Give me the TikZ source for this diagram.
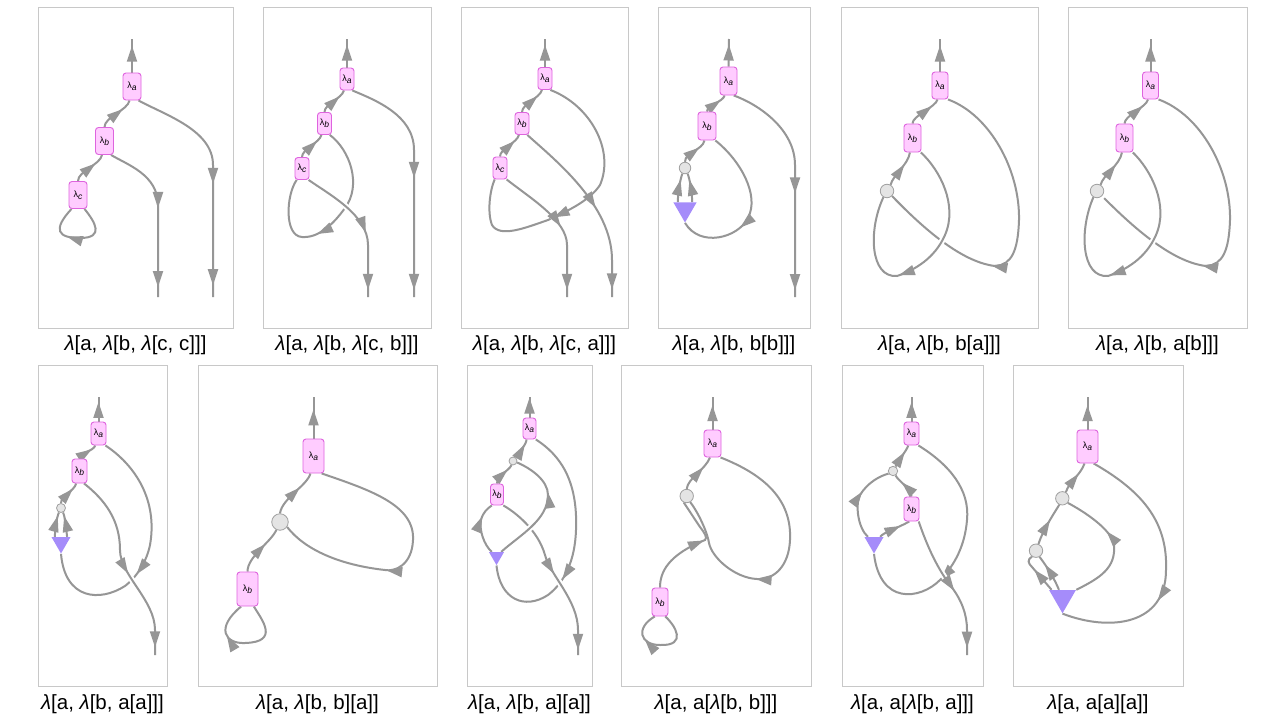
\documentclass[tikz,border=0pt]{standalone}
\usepackage{fontspec}
\setmainfont{Liberation Sans}
\usetikzlibrary{arrows.meta,decorations.markings,shapes.geometric,calc}
\pgfdeclarelayer{bg}
\pgfsetlayers{bg,main}
\definecolor{wirec}{RGB}{150,150,150}
\definecolor{lamfill}{RGB}{255,204,255}
\definecolor{lamdraw}{RGB}{222,100,222}
\definecolor{appfill}{RGB}{228,228,228}
\definecolor{appdraw}{RGB}{160,160,160}
\definecolor{dupfill}{RGB}{165,140,250}
\definecolor{framec}{RGB}{200,200,200}
\newcommand{\Lm}{{\itshape λ}}
\newcommand{\lsub}[1]{λ\kern-0.2pt\raisebox{-2pt}{\fontsize{8.5}{9}\selectfont\itshape #1}}
\begin{document}
\begin{tikzpicture}[x=1pt,y=-1pt,
  lam/.style 2 args={draw=lamdraw, fill=lamfill, rounded corners=3pt, line width=0.9pt,
     minimum width=#1pt, minimum height=#2pt, inner sep=0pt, font=\fontsize{9}{9}\selectfont},
  app/.style={circle, draw=appdraw, fill=appfill, line width=0.8pt, inner sep=0pt, minimum size=#1pt},
  dup/.style={regular polygon, regular polygon sides=3, shape border rotate=180, fill=dupfill,
     inner sep=0pt, minimum size=#1pt},
  wr/.style={draw=wirec, line width=2pt},
  arr/.style={postaction={decorate,decoration={markings,mark=at position #1 with {\arrow{Triangle[length=16pt,width=10pt]}}}}},
  over/.style={preaction={draw=white,line width=6pt}},
  frm/.style={draw=framec, line width=0.9pt},
  captxt/.style={anchor=base, font=\fontsize{20.5}{24}\selectfont}
]
\begin{pgfonlayer}{bg}
\fill[white] (0,0) rectangle (1280,720);
\end{pgfonlayer}
\path[use as bounding box] (0,0) rectangle (1280,720);

% ---------------- Panel 1
\draw[frm] (38,7) rectangle (233,328);
\node[captxt] (cap1) at (135.5,350) {\Lm[a, \Lm[b, \Lm[c, c]]]};
\node[lam={18}{27}] (a1) at (132,86.5) {\lsub{a}};
\node[lam={18}{27}] (b1) at (104.5,141) {\lsub{b}};
\node[lam={18}{27}] (c1) at (78,195) {\lsub{c}};
\coordinate (t1) at (132,39);
\coordinate (o1a) at (158,297);
\coordinate (o1b) at (213,297);
\begin{pgfonlayer}{bg}
\draw[wr,arr=0.8] (a1.north) -- (t1);
\draw[wr,arr=0.7] (b1.north) .. controls +(0,-10) and +(-2,10) .. (a1.-100);
\draw[wr,arr=0.7] (c1.north) .. controls +(0,-10) and +(-2,10) .. (b1.-100);
\draw[wr,arr=0.62] (c1.-65) .. controls (95,222) and (105,238) .. (80,238) .. controls (58,238) and (52,230) .. (c1.-115);
\draw[wr,arr=0.46,arr=0.94] (b1.-65) .. controls (128,165) and (158,175) .. (158,205) -- (o1a);
\draw[wr,arr=0.52,arr=0.95] (a1.-65) .. controls (165,115) and (213,130) .. (213,165) -- (o1b);
\end{pgfonlayer}

% ---------------- Panel 2
\draw[frm] (263,7) rectangle (431,328);
\node[captxt] (cap2) at (347,350) {\Lm[a, \Lm[b, \Lm[c, b]]]};
\node[lam={14}{22}] (a2) at (347,79) {\lsub{a}};
\node[lam={14}{22}] (b2) at (324.5,123.5) {\lsub{b}};
\node[lam={14}{22}] (c2) at (302,168.5) {\lsub{c}};
\coordinate (t2) at (347,39);
\coordinate (o2a) at (368,297);
\coordinate (o2b) at (414,297);
\begin{pgfonlayer}{bg}
\draw[wr,arr=0.8] (a2.north) -- (t2);
\draw[wr,arr=0.75] (b2.north) .. controls +(0,-8) and +(-2,8) .. (a2.-105);
\draw[wr,arr=0.75] (c2.north) .. controls +(0,-8) and +(-2,8) .. (b2.-105);
\draw[wr,arr=0.5,arr=0.97] (a2.-65) .. controls (375,100) and (414,115) .. (414,150) -- (o2b);
\draw[wr,arr=0.6] (b2.-65) .. controls (350,150) and (362,185) .. (345,208) .. controls (332,226) and (318,238) .. (302,237) .. controls (284,236) and (286,195) .. (c2.-115);
\draw[wr,over,arr=0.55,arr=0.95] (c2.-60) .. controls (330,195) and (368,215) .. (368,245) -- (o2a);
\end{pgfonlayer}

% ---------------- Panel 3
\draw[frm] (461,7) rectangle (628,328);
\node[captxt] (cap3) at (544.5,350) {\Lm[a, \Lm[b, \Lm[c, a]]]};
\node[lam={14}{22}] (a3) at (545,78.5) {\lsub{a}};
\node[lam={14}{22}] (b3) at (522,123.5) {\lsub{b}};
\node[lam={14}{22}] (c3) at (500,168) {\lsub{c}};
\coordinate (t3) at (545,39);
\coordinate (o3a) at (567,297);
\coordinate (o3b) at (612,297);
\begin{pgfonlayer}{bg}
\draw[wr,arr=0.8] (a3.north) -- (t3);
\draw[wr,arr=0.75] (b3.north) .. controls +(0,-8) and +(-2,8) .. (a3.-105);
\draw[wr,arr=0.75] (c3.north) .. controls +(0,-8) and +(-2,8) .. (b3.-105);
\draw[wr,arr=0.61] (a3.-65) .. controls (590,105) and (615,150) .. (600,185) .. controls (590,200) and (570,210) .. (548,220) .. controls (525,228) and (500,238) .. (492,225) .. controls (487,212) and (490,190) .. (c3.-115);
\draw[wr,over,arr=0.52,arr=0.96] (b3.-65) .. controls (555,160) and (612,205) .. (612,260) -- (o3b);
\draw[wr,over,arr=0.5,arr=0.95] (c3.-60) .. controls (530,198) and (567,220) .. (567,245) -- (o3a);
\end{pgfonlayer}

% ---------------- Panel 4
\draw[frm] (658,7) rectangle (810,328);
\node[captxt] (cap4) at (734,350) {\Lm[a, \Lm[b, b[b]]]};
\node[lam={17}{28}] (a4) at (728.5,81) {\lsub{a}};
\node[lam={18}{28}] (b4) at (707,126) {\lsub{b}};
\node[app=11.5] (p4) at (685,168) {};
\node[dup=27] (d4) at (685,209) {};
\coordinate (t4) at (729,39);
\coordinate (o4) at (795,297);
\begin{pgfonlayer}{bg}
\draw[wr,arr=0.8] (a4.north) -- (t4);
\draw[wr,arr=0.75] (b4.north) .. controls +(0,-7) and +(-2,7) .. (a4.-105);
\draw[wr,arr=0.7] (p4.north) .. controls +(0,-10) and +(-2,10) .. (b4.-100);
\draw[wr,arr=0.78] (d4.136) .. controls (678,192) and (680,180) .. (p4.-115);
\draw[wr,arr=0.78] (d4.44) .. controls (692,192) and (690,180) .. (p4.-65);
\draw[wr,arr=0.62] (b4.-60) .. controls (740,160) and (760,195) .. (748,218) .. controls (738,238) and (700,248) .. (d4.corner 1);
\draw[wr,arr=0.55,arr=0.97] (a4.-70) .. controls (760,105) and (795,130) .. (795,165) -- (o4);
\end{pgfonlayer}

% ---------------- Panel 5
\draw[frm] (841,7) rectangle (1038,328);
\node[captxt] (cap5) at (939.5,350) {\Lm[a, \Lm[b, b[a]]]};
\node[lam={16}{27}] (a5) at (940,85.5) {\lsub{a}};
\node[lam={17}{28}] (b5) at (912.5,138) {\lsub{b}};
\node[app=13.5] (p5) at (887,191) {};
\coordinate (t5) at (940,39);
\begin{pgfonlayer}{bg}
\draw[wr,arr=0.8] (a5.north) -- (t5);
\draw[wr,arr=0.75] (b5.north) .. controls +(0,-8) and +(-2,8) .. (a5.-100);
\draw[wr,arr=0.65] (p5.60) .. controls (893,175) and (908,165) .. (b5.-100);
\draw[wr,arr=0.63] (a5.-60) .. controls (990,115) and (1020,170) .. (1019,220) .. controls (1018,250) and (1012,265) .. (995,266) .. controls (960,262) and (920,225) .. (p5.-45);
\draw[wr,over,arr=0.62] (b5.-60) .. controls (940,170) and (958,205) .. (945,235) .. controls (935,258) and (915,270) .. (897,276) .. controls (870,278) and (868,230) .. (p5.-120);
\end{pgfonlayer}

% ---------------- Panel 6
\draw[frm] (1068,7) rectangle (1247,328);
\node[captxt] (cap6) at (1157.5,350) {\Lm[a, \Lm[b, a[b]]]};
\node[lam={16}{27}] (a6) at (1150.5,85.5) {\lsub{a}};
\node[lam={17}{28}] (b6) at (1124.5,138) {\lsub{b}};
\node[app=13.5] (p6) at (1097,191) {};
\coordinate (t6) at (1150.5,39);
\begin{pgfonlayer}{bg}
\draw[wr,arr=0.8] (a6.north) -- (t6);
\draw[wr,arr=0.75] (b6.north) .. controls +(0,-8) and +(-2,8) .. (a6.-100);
\draw[wr,arr=0.65] (p6.60) .. controls (1103,175) and (1120,165) .. (b6.-100);
\draw[wr,arr=0.63,shorten >=3pt] (a6.-60) .. controls (1201,115) and (1231,170) .. (1230,220) .. controls (1229,250) and (1223,265) .. (1206,266) .. controls (1171,262) and (1131,225) .. (p6.-45);
\draw[wr,over,arr=0.62] (b6.-60) .. controls (1151,170) and (1169,205) .. (1156,235) .. controls (1146,258) and (1126,270) .. (1108,276) .. controls (1081,278) and (1079,230) .. (p6.-120);
\end{pgfonlayer}

% ---------------- Panel 7
\draw[frm] (38,365) rectangle (167,686);
\node[captxt] (cap7) at (102.5,709) {\Lm[a, \Lm[b, a[a]]]};
\node[lam={15}{23}] (a7) at (98.5,433.5) {\lsub{a}};
\node[lam={15}{24}] (b7) at (79.5,471) {\lsub{b}};
\node[app=9] (p7) at (61,508) {};
\node[dup=22] (d7) at (61,542.5) {};
\coordinate (t7) at (98.5,397);
\coordinate (o7) at (155,655);
\begin{pgfonlayer}{bg}
\draw[wr,arr=0.8] (a7.north) -- (t7);
\draw[wr,arr=0.75] (b7.north) .. controls +(0,-6) and +(-2,6) .. (a7.-105);
\draw[wr,arr=0.75] (p7.north) .. controls +(0,-8) and +(-2,8) .. (b7.-105);
\draw[wr,arr=0.85] (d7.137) .. controls (55,527) and (57,517) .. (p7.-115);
\draw[wr,arr=0.85] (d7.43) .. controls (66,527) and (65,517) .. (p7.-65);
\draw[wr,arr=0.58] (a7.-60) .. controls (135,465) and (158,500) .. (150,545) .. controls (147,560) and (138,576) .. (125,586) .. controls (100,602) and (65,600) .. (d7.corner 1);
\draw[wr,over,arr=0.54,arr=0.96] (b7.-70) .. controls (105,500) and (120,520) .. (120,550) .. controls (120,575) and (155,600) .. (155,630) -- (o7);
\end{pgfonlayer}

% ---------------- Panel 8
\draw[frm] (198,365) rectangle (437,686);
\node[captxt] (cap8) at (317.5,709) {\Lm[a, \Lm[b, b][a]]};
\node[lam={21}{34}] (a8) at (313.5,456) {\lsub{a}};
\node[app=16.5] (p8) at (280,522) {};
\node[lam={21}{34}] (b8) at (247.5,589) {\lsub{b}};
\coordinate (t8) at (313.5,397);
\begin{pgfonlayer}{bg}
\draw[wr,arr=0.7] (a8.north) -- (t8);
\draw[wr,arr=0.65] (p8.north) .. controls +(2,-15) and +(-3,12) .. (a8.-100);
\draw[wr,arr=0.65] (b8.north) .. controls +(0,-15) and +(-5,12) .. (p8.-115);
\draw[wr,arr=0.68] (b8.-70) .. controls (262,620) and (280,642) .. (245,643) .. controls (225,644) and (215,628) .. (b8.-110);
\draw[wr,arr=0.6] (a8.-65) .. controls (370,490) and (415,505) .. (413,540) .. controls (412,565) and (395,572) .. (385,570) .. controls (340,565) and (305,550) .. (p8.-35);
\end{pgfonlayer}

% ---------------- Panel 9
\draw[frm] (467,365) rectangle (592,686);
\node[captxt] (cap9) at (529.5,709) {\Lm[a, \Lm[b, a][a]]};
\node[lam={13}{21}] (a9) at (529.5,428.5) {\lsub{a}};
\node[app=8] (p9) at (513,461) {};
\node[lam={13}{21}] (b9) at (497,494.5) {\lsub{b}};
\node[dup=17.4] (d9) at (496.5,556.4) {};
\coordinate (t9) at (529.5,397);
\coordinate (o9) at (578,655);
\begin{pgfonlayer}{bg}
\draw[wr,arr=0.97] (a9.north) -- (t9);
\draw[wr,arr=0.75] (p9.60) .. controls (518,452) and (526,446) .. (a9.-105);
\draw[wr,arr=0.75] (b9.north) .. controls +(0,-8) and +(-3,6) .. (p9.-110);
\draw[wr,arr=0.62] (a9.-60) .. controls (560,455) and (578,480) .. (576,530) .. controls (575,560) and (565,582) .. (548,595) .. controls (525,610) and (500,600) .. (d9.corner 1);
\draw[wr,arr=0.72] (d9.136) .. controls (484,545) and (479,530) .. (481,520) .. controls (483,512) and (488,508) .. (b9.-115);
\draw[wr,over,arr=0.5,arr=0.97] (b9.-60) .. controls (515,512) and (538,530) .. (545,555) .. controls (550,575) and (578,600) .. (578,630) -- (o9);
\draw[wr,over,arr=0.64] (d9.44) .. controls (520,535) and (548,520) .. (548,495) .. controls (548,480) and (530,468) .. (p9.-20);
\end{pgfonlayer}

% ---------------- Panel 10
\draw[frm] (621,365) rectangle (811,686);
\node[captxt] (cap10) at (716,709) {\Lm[a, a[\Lm[b, b]]]};
\node[lam={17}{27}] (a10) at (712.5,443.5) {\lsub{a}};
\node[app=13.4] (p10) at (686.7,496) {};
\node[lam={16}{28}] (b10) at (660,602) {\lsub{b}};
\coordinate (t10) at (712.5,397);
\begin{pgfonlayer}{bg}
\draw[wr,arr=0.75] (a10.north) -- (t10);
\draw[wr,arr=0.7] (p10.north) .. controls (688,478) and (705,470) .. (a10.-100);
\draw[wr,arr=0.68] (b10.-70) .. controls (675,625) and (688,646) .. (660,645) .. controls (640,645) and (635,628) .. (b10.-110);
\draw[wr,arr=0.6] (b10.north) .. controls (660,572) and (668,555) .. (705,540) .. controls (708,538) and (704,532) .. (700,527) -- (p10.-115);
\draw[wr,arr=0.62] (a10.-60) .. controls (765,475) and (792,500) .. (790,540) .. controls (789,565) and (775,580) .. (757,579) .. controls (735,578) and (712,558) .. (709,543) .. controls (708,535) and (700,515) .. (p10.-60);
\end{pgfonlayer}

% ---------------- Panel 11
\draw[frm] (842,365) rectangle (983,686);
\node[captxt] (cap11) at (912.5,709) {\Lm[a, a[\Lm[b, a]]]};
\node[lam={15}{23}] (a11) at (911.5,433.5) {\lsub{a}};
\node[app=9.4] (p11) at (893,471) {};
\node[lam={15}{24}] (b11) at (911.5,509) {\lsub{b}};
\node[dup=22] (d11) at (874,542.5) {};
\coordinate (t11) at (911.5,397);
\coordinate (o11) at (967,655);
\begin{pgfonlayer}{bg}
\draw[wr,arr=0.8] (a11.north) -- (t11);
\draw[wr,arr=0.7] (p11.60) .. controls (898,460) and (906,452) .. (a11.-105);
\draw[wr,arr=0.65] (b11.north) .. controls +(0,-8) and +(3,6) .. (p11.-60);
\draw[wr,arr=0.6] (d11.137) .. controls (858,528) and (855,505) .. (860,495) .. controls (868,482) and (880,476) .. (p11.-150);
\draw[wr,arr=0.7] (d11.43) .. controls (884,532) and (898,528) .. (b11.-100);
\draw[wr,arr=0.63] (a11.-60) .. controls (950,465) and (970,490) .. (967,520) .. controls (965,545) and (955,565) .. (940,580) .. controls (920,600) and (880,605) .. (d11.corner 1);
\draw[wr,over,arr=0.54,arr=0.95] (b11.-60) .. controls (925,540) and (935,565) .. (950,585) .. controls (962,600) and (967,615) .. (967,630) -- (o11);
\end{pgfonlayer}

% ---------------- Panel 12
\draw[frm] (1013,365) rectangle (1183,686);
\node[captxt] (cap12) at (1098,709) {\Lm[a, a[a][a]]};
\node[lam={21}{33}] (a12) at (1087.5,446.5) {\lsub{a}};
\node[app=13.4] (p12a) at (1062.3,498.3) {};
\node[app=13.4] (p12b) at (1036,550.7) {};
\node[dup=31] (d12) at (1062.5,597.75) {};
\coordinate (t12) at (1087.5,397);
\begin{pgfonlayer}{bg}
\draw[wr,arr=0.75] (a12.north) -- (t12);
\draw[wr,arr=0.65] (p12a.60) .. controls (1070,480) and (1080,476) .. (a12.-100);
\draw[wr,arr=0.6] (p12b.70) .. controls (1043,530) and (1053,515) .. (p12a.-115);
\draw[wr,arr=0.62] (d12.corner 2) .. controls (1100,578) and (1116,568) .. (1114,545) .. controls (1112,530) and (1085,512) .. (p12a.-40);
\draw[wr,arr=0.75] (d12.114) .. controls (1055,580) and (1048,568) .. (p12b.-60);
\draw[wr,arr=0.62] (d12.144) .. controls (1045,582) and (1038,574) .. (1032,567) .. controls (1028,563) and (1027,560) .. (p12b.-125);
\draw[wr,arr=0.62] (a12.-70) .. controls (1140,490) and (1168,520) .. (1166,570) .. controls (1166,625) and (1110,632) .. (d12.corner 1);
\end{pgfonlayer}
\end{tikzpicture}
\end{document}
